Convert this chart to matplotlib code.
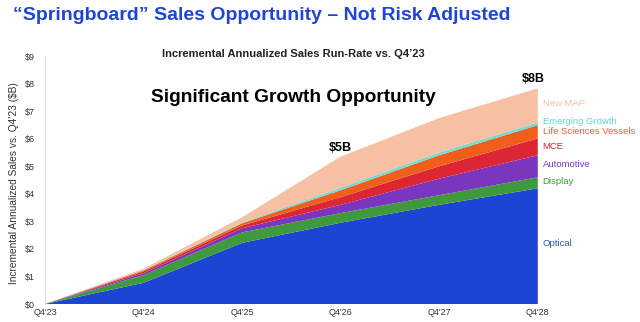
import numpy as np
import matplotlib
matplotlib.use("Agg")
import matplotlib.pyplot as plt

plt.rcParams['font.family'] = ['Liberation Sans', 'DejaVu Sans']

# DATOS ($B, incremental vs Q4'23)
trimestres = ["Q4'23", "Q4'24", "Q4'25", "Q4'26", "Q4'27", "Q4'28"]
optical = [0, 0.77, 2.22, 2.95, 3.60, 4.20]
display = [0, 0.28, 0.38, 0.35, 0.35, 0.40]
automotive = [0, 0.07, 0.15, 0.30, 0.60, 0.80]
mce = [0, 0.06, 0.10, 0.28, 0.45, 0.61]
life_sciences = [0, 0.04, 0.08, 0.25, 0.40, 0.48]
emerging = [0, 0.02, 0.03, 0.09, 0.10, 0.10]
new_map = [0, 0.04, 0.19, 1.13, 1.25, 1.24]

series = [optical, display, automotive, mce, life_sciences, emerging, new_map]
nombres = ["Optical", "Display", "Automotive", "MCE", "Life Sciences Vessels",
           "Emerging Growth", "New MAP"]
colores = ["#1c45d3", "#3e9a3c", "#7b36c0", "#dc2633", "#f05e1c", "#70dcd4", "#f7c0a3"]
colores_texto = ["#2a4fd8", "#3e9a3c", "#7b36c0", "#dc2633", "#f05e1c", "#5fd6cf", "#f7c0a3"]
# pequeño ajuste vertical de las etiquetas para que no se encimen
ajuste = [0.1, 0.05, 0.05, 0.0, 0.0, 0.1, 0.05]

x = np.arange(len(trimestres))

fig = plt.figure(figsize=(6.4, 3.22), dpi=100)
ax = fig.add_axes([0.0703, 0.0559, 0.770, 0.770])

ax.stackplot(x, *series, colors=colores, linewidth=0)

ax.set_xlim(0, len(trimestres) - 1)
ax.set_ylim(0, 9)
ax.set_xticks(x)
ax.set_xticklabels(trimestres, fontsize=6.5, color="#333333")
ax.set_yticks(range(0, 10))
ax.set_yticklabels([f"${v}" for v in range(0, 10)], fontsize=6.5, color="#333333")
ax.tick_params(length=0, pad=3)
ax.tick_params(axis='y', pad=7)
for lado in ["top", "right", "bottom"]:
    ax.spines[lado].set_visible(False)
ax.spines["left"].set_color("#dddddd")
fig.text(0.022, 0.432, "Incremental Annualized Sales vs. Q4’23 ($B)", fontsize=7.3,
         color="#333333", rotation=90, ha="center", va="center")

# etiquetas a la derecha, centradas en cada banda
acumulado = np.cumsum([s[-1] for s in series])
base = np.concatenate([[0], acumulado[:-1]])
for nombre, col, b, t, aj in zip(nombres, colores_texto, base, acumulado, ajuste):
    ax.text(len(trimestres) - 1 + 0.05, (b + t) / 2 + aj, nombre, color=col,
            fontsize=6.8, va="center", ha="left", clip_on=False)

totales = np.sum(series, axis=0)
ax.text(3, totales[3] + 0.1, "$5B", fontsize=9, fontweight="bold", ha="center", va="bottom")
ax.text(5 - 0.05, totales[5] + 0.12, "$8B", fontsize=9, fontweight="bold", ha="center", va="bottom")

ax.text(2.52, 7.5, "Significant Growth Opportunity", fontsize=13.8, fontweight="bold",
        ha="center", va="center")

fig.text(0.458, 0.832, "Incremental Annualized Sales Run-Rate vs. Q4’23", fontsize=8,
         fontweight="bold", ha="center", va="center", color="#222222")
fig.text(0.021, 0.953, "“Springboard” Sales Opportunity – Not Risk Adjusted", fontsize=14,
         fontweight="bold", ha="left", va="center", color="#1f45d6")

fig.savefig("out.png", dpi=100)
